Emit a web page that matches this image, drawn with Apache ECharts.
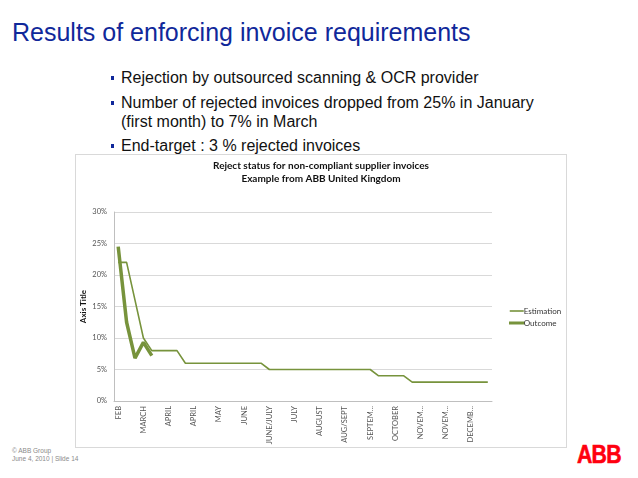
<!DOCTYPE html>
<html>
<head>
<meta charset="utf-8">
<script src="https://cdn.jsdelivr.net/npm/echarts@6/dist/echarts.min.js"></script>
<style>
  body { margin: 0; width: 638px; height: 478px; background: #fff; position: relative; overflow: hidden; font-family: "Liberation Sans", Arial, sans-serif; }
  .title { position: absolute; left: 12px; top: 18px; font-size: 25px; color: #10289a; white-space: nowrap; }
  .bullet { position: absolute; left: 121px; font-size: 16px; color: #111; line-height: 19px; white-space: nowrap; }
  .bullet::before { content: ""; position: absolute; left: -10px; top: 8px; width: 3px; height: 4px; background: #10289a; }
  .foot { position: absolute; left: 12px; top: 447px; font-size: 6.5px; color: #8a8a8a; line-height: 8px; }
  .logo { position: absolute; left: 577px; top: 439px; font-family: "Liberation Sans", Arial, sans-serif; font-weight: bold; font-size: 26px; color: #ff000f; transform: scaleX(0.82); transform-origin: left top; letter-spacing: -1px; -webkit-text-stroke: 0.6px #ff000f; }
  #chart { position: absolute; left: 75px; top: 154px; width: 490px; height: 292px; border: 1px solid #d9d9d9; }
</style>
</head>
<body>
<div class="title">Results of enforcing invoice requirements</div>
<div class="bullet" style="top:68px">Rejection by outsourced scanning &amp; OCR provider</div>
<div class="bullet" style="top:93px">Number of rejected invoices dropped from 25% in January<br>(first month) to 7% in March</div>
<div class="bullet" style="top:136px">End-target : 3 % rejected invoices</div>
<div id="chart"></div>
<div class="foot">© ABB Group<br>June 4, 2010 | Slide 14</div>
<div class="logo">ABB</div>
<script>
// categories (only every third one is labelled in the picture)
var categories = [
  "FEB", "FEB", "FEB", "MARCH", "MARCH", "MARCH", "APRIL", "APRIL", "APRIL",
  "APRIL", "APRIL", "APRIL", "MAY", "MAY", "MAY", "JUNE", "JUNE", "JUNE",
  "JUNE/JULY", "JUNE/JULY", "JUNE/JULY", "JULY", "JULY", "JULY", "AUGUST", "AUGUST", "AUGUST",
  "AUG/SEPT", "AUG/SEPT", "AUG/SEPT", "SEPTEM...", "SEPTEM...", "SEPTEM...", "OCTOBER", "OCTOBER", "OCTOBER",
  "NOVEM...", "NOVEM...", "NOVEM...", "NOVEM...", "NOVEM...", "NOVEM...", "DECEMB...", "DECEMB...", "DECEMB..."
];
var estimation = [
  22, 22, 16, 10, 8, 8, 8, 8,
  6, 6, 6, 6, 6, 6, 6, 6, 6, 6,
  5, 5, 5, 5, 5, 5, 5, 5, 5, 5, 5, 5, 5,
  4, 4, 4, 4,
  3, 3, 3, 3, 3, 3, 3, 3, 3, 3
];
var outcome = [24.5, 12.5, 6.8, 9.3, 7.2];
var yTicks = [0, 5, 10, 15, 20, 25, 30];

var green = "#77933c";
var chartFont = "Lato";
var myChart = echarts.init(document.getElementById("chart"));
var option = {
  animation: false,
  title: {
    text: "Reject status for non-compliant supplier invoices\nExample from ABB United Kingdom",
    left: "center",
    top: -1,
    textStyle: { fontFamily: chartFont, fontSize: 10, fontWeight: "bold", color: "#111", lineHeight: 13 },
  },
  legend: {
    data: [
      { name: "Estimation", icon: "rect" },
      { name: "Outcome", icon: "rect", itemStyle: { borderColor: green, borderWidth: 1.5 } },
    ],
    orient: "vertical",
    left: 428,
    top: 147,
    itemWidth: 14,
    itemHeight: 1.6,
    itemGap: 4,
    textStyle: { fontFamily: chartFont, fontSize: 8, color: "#333", padding: [0, 0, 0, -5] },
  },
  grid: { left: 38, top: 57, width: 378, height: 189, outerBoundsMode: "none" },
  xAxis: {
    type: "category",
    data: categories,
    boundaryGap: true,
    axisLine: { lineStyle: { color: "#bfbfbf" } },
    axisTick: { show: false },
    axisLabel: { interval: 2, rotate: 90, margin: 5, fontFamily: chartFont, fontSize: 7.5, color: "#555" },
  },
  yAxis: {
    type: "value",
    min: yTicks[0],
    max: yTicks[yTicks.length - 1],
    interval: 5,
    name: "Axis Title",
    nameLocation: "middle",
    nameRotate: 90,
    nameGap: 27,
    nameMoveOverlap: false,
    nameTextStyle: { fontFamily: chartFont, fontSize: 8, fontWeight: "bold", color: "#111" },
    axisLine: { show: true, lineStyle: { color: "#bfbfbf" } },
    axisTick: { show: false },
    splitLine: { lineStyle: { color: "#d9d9d9" } },
    axisLabel: { formatter: "{value}%", margin: 7, fontFamily: chartFont, fontSize: 7.5, color: "#555" },
  },
  series: [
    {
      name: "Estimation",
      type: "line",
      data: estimation,
      symbol: "none",
      color: green,
      lineStyle: { width: 1.6 },
    },
    {
      name: "Outcome",
      type: "line",
      data: outcome,
      symbol: "none",
      color: green,
      lineStyle: { width: 3.5 },
    },
  ],
};
myChart.setOption(option);
</script>
</body>
</html>
